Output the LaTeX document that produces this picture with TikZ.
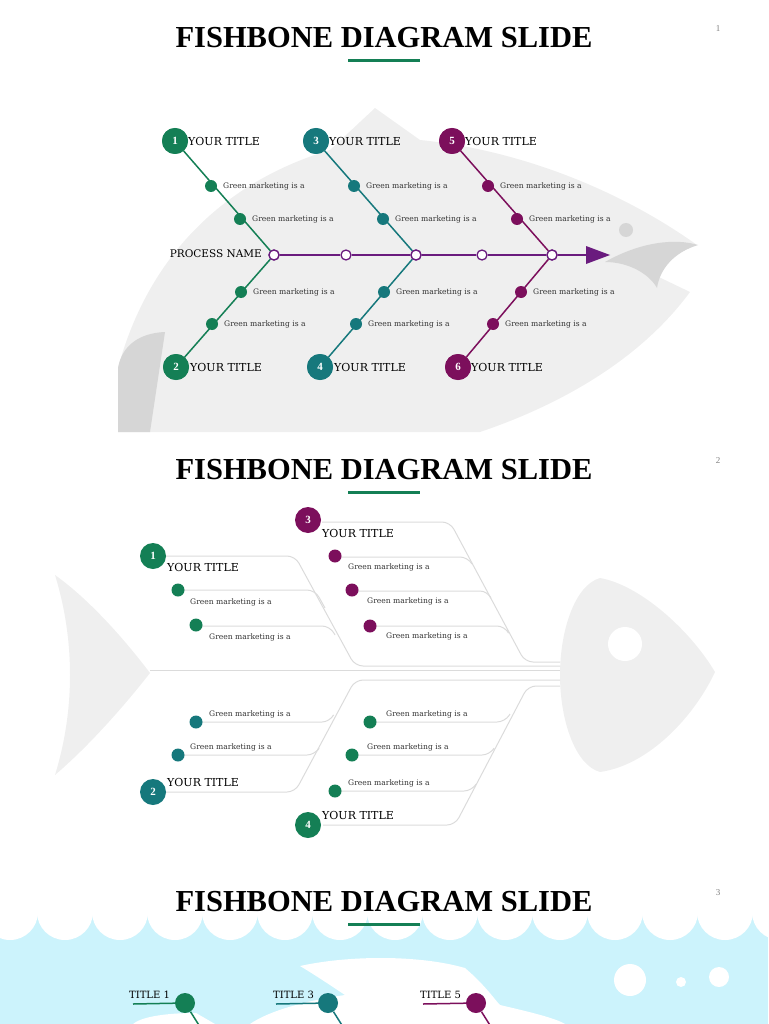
\documentclass[tikz,border=0pt]{standalone}
\usepackage{fontspec}
\setmainfont{Liberation Serif}
\newfontfamily\bodyf{DejaVu Serif}
\begin{document}
\begin{tikzpicture}[x=1pt,y=-1pt,
  num/.style={circle,fill=#1,text=white,minimum size=26pt,inner sep=0pt,font=\bfseries\fontsize{11}{11}\selectfont},
  dotc/.style={circle,fill=#1,minimum size=12pt,inner sep=0pt},
  ring/.style={circle,draw=spine,fill=white,line width=1.3pt,minimum size=10pt,inner sep=0pt},
  sm/.style={anchor=west,inner sep=0pt,font=\bodyf\fontsize{7.6}{7.6}\selectfont,text=black!80},
  yt/.style={anchor=west,inner sep=0pt,font=\bodyf\fontsize{11}{11}\selectfont},
  ttl/.style={font=\bfseries\fontsize{30.5}{30.5}\selectfont},
  pg/.style={font=\fontsize{9}{9}\selectfont,text=black!50},
  grl/.style={draw=black!14,line width=1pt,rounded corners=8pt},
  bone/.style={line width=1.5pt,draw=#1}]
\definecolor{cg}{HTML}{147F55}
\definecolor{ct}{HTML}{16787C}
\definecolor{cp}{HTML}{7C0F5C}
\definecolor{spine}{HTML}{6A1B7E}
\definecolor{fg}{HTML}{EFEFEF}
\definecolor{fd}{HTML}{D6D6D6}
\definecolor{sky}{HTML}{CCF3FC}
\useasboundingbox (0,0) rectangle (768,1024);
% ===== Slide 1 =====
\node[ttl] (t1) at (384,38) {FISHBONE DIAGRAM SLIDE};
\fill[cg] (348,59.5) rectangle (420,62.5);
\node[pg] (p1) at (718,29) {1};
\fill[fg] (118,432) -- (118,368) .. controls (150,250) and (230,180) .. (330,150) -- (375,108) -- (420,140)
  .. controls (520,150) and (620,190) .. (697,245) -- (640,268) -- (690,292)
  .. controls (640,360) and (560,405) .. (480,432) -- cycle;
\fill[fd] (118,432) -- (118,368) .. controls (122,345) and (140,333) .. (165,332) -- (150,432) -- cycle;
\fill[fd] (605,262) .. controls (640,242) and (675,238) .. (698,245) .. controls (675,252) and (660,268) .. (657,288) .. controls (650,275) and (630,262) .. (605,262) -- cycle;
\fill[fd] (626,230) circle (7);
% spine
\node[ring] (r1) at (274,255) {};
\node[ring] (r2) at (346,255) {};
\node[ring] (r3) at (416,255) {};
\node[ring] (r4) at (482,255) {};
\node[ring] (r5) at (552,255) {};
\coordinate (tip) at (590,255);
\node[num=cg] (n1) at (175,141) {1};
\node[num=cg] (n2) at (176,367) {2};
\node[num=ct] (n3) at (316,141) {3};
\node[num=ct] (n4) at (320,367) {4};
\node[num=cp] (n5) at (452,141) {5};
\node[num=cp] (n6) at (458,367) {6};
\draw[spine,line width=1.3pt] (r1) -- (r2) -- (r3) -- (r4) -- (r5) -- (tip);
\fill[spine] (586,246) -- (610,255) -- (586,264) -- cycle;
\draw[bone=cg] (n1) -- (r1) -- (n2);
\draw[bone=ct] (n3) -- (r3) -- (n4);
\draw[bone=cp] (n5) -- (r5) -- (n6);
\node[ring] at (274,255) {};\node[ring] at (416,255) {};\node[ring] at (552,255) {};
\node[anchor=east,inner sep=0pt,font=\bodyf\fontsize{10.5}{10.5}\selectfont] (pn) at (262,254) {PROCESS NAME};
\node[num=cg] at (175,141) {1};\node[num=cg] at (176,367) {2};
\node[num=ct] at (316,141) {3};\node[num=ct] at (320,367) {4};
\node[num=cp] at (452,141) {5};\node[num=cp] at (458,367) {6};
\node[yt] (y1) at (188,141) {YOUR TITLE};
\node[yt] (y2) at (190,367) {YOUR TITLE};
\node[yt] (y3) at (329,141) {YOUR TITLE};
\node[yt] (y4) at (334,367) {YOUR TITLE};
\node[yt] (y5) at (465,141) {YOUR TITLE};
\node[yt] (y6) at (471,367) {YOUR TITLE};
\foreach \x/\y/\c/\n in {211/186/cg/a1,240/219/cg/a2,241/292/cg/a3,212/324/cg/a4,
  354/186/ct/b1,383/219/ct/b2,384/292/ct/b3,356/324/ct/b4,
  488/186/cp/c1,517/219/cp/c2,521/292/cp/c3,493/324/cp/c4}{
  \node[dotc=\c] (\n) at (\x,\y) {};
  \node[sm] (\n t) at (\x+12,\y) {Green marketing is a};
}
% ===== Slide 2 =====
\node[ttl] (t2) at (384,470) {FISHBONE DIAGRAM SLIDE};
\fill[cg] (348,490.5) rectangle (420,493.5);
\node[pg] (p2) at (718,461) {2};
\fill[fg] (55,575) .. controls (90,600) and (125,640) .. (150,673) .. controls (125,705) and (90,745) .. (55,775) .. controls (75,710) and (75,640) .. (55,575) -- cycle;
\fill[fg] (600,578) .. controls (640,585) and (690,630) .. (715,672) .. controls (695,715) and (650,765) .. (600,772) .. controls (575,765) and (560,720) .. (560,675) .. controls (560,630) and (575,585) .. (600,578) -- cycle;
\fill[white] (625,644) circle (17);
\draw[grl,rounded corners=0pt] (150,670) -- (560,670);
\draw[grl] (160,556) -- (295,556) -- (355,666) -- (560,666);
\draw[grl] (180,590) -- (315,590) -- (325,608);
\draw[grl] (200,626) -- (330,626) -- (335,635);
\draw[grl] (322,522) -- (450,522) -- (525,662) -- (560,662);
\draw[grl] (335,557) -- (468,557) -- (472,564);
\draw[grl] (352,591) -- (488,591) -- (490,596);
\draw[grl] (370,626) -- (505,626) -- (507,630);
\draw[grl] (160,792) -- (295,792) -- (355,680) -- (560,680);
\draw[grl] (196,722) -- (330,722) -- (333,716);
\draw[grl] (178,755) -- (315,755) -- (318,750);
\draw[grl] (323,825) -- (455,825) -- (528,686) -- (560,686);
\draw[grl] (370,722) -- (505,722) -- (510,714);
\draw[grl] (352,755) -- (490,755) -- (493,750);
\draw[grl] (335,791) -- (472,791) -- (475,786);
\node[num=cg] (m1) at (153,556) {1};
\node[num=cp] (m3) at (308,520) {3};
\node[num=ct] (m2) at (153,792) {2};
\node[num=cg] (m4) at (308,825) {4};
\node[yt] (z1) at (167,567) {YOUR TITLE};
\node[yt] (z3) at (322,533) {YOUR TITLE};
\node[yt] (z2) at (167,782) {YOUR TITLE};
\node[yt] (z4) at (322,815) {YOUR TITLE};
\foreach \x/\y/\c/\n/\tx/\ty in {178/590/cg/d1/190/602,196/625/cg/d2/209/637,
  335/556/cp/d3/348/567,352/590/cp/d4/367/601,370/626/cp/d5/386/636,
  196/722/ct/d6/209/714,178/755/ct/d7/190/747,
  370/722/cg/d8/386/714,352/755/cg/d9/367/747,335/791/cg/d10/348/783}{
  \node[dotc=\c,minimum size=13pt] (\n) at (\x,\y) {};
  \node[sm] (\n t) at (\tx,\ty) {Green marketing is a};
}
% ===== Slide 3 =====
\fill[sky] (0,915) rectangle (768,1024);
\foreach \i in {0,...,14}{\fill[white] (\i*55+10,912) circle (28);}
\node[ttl] (t3) at (384,902) {FISHBONE DIAGRAM SLIDE};
\fill[cg] (348,922.5) rectangle (420,925.5);
\node[pg] (p3) at (718,893) {3};
\fill[white] (630,980) circle (16);
\fill[white] (681,982) circle (5);
\fill[white] (719,977) circle (10);
\fill[white] (300,966) .. controls (350,955) and (420,955) .. (465,968) .. controls (485,985) and (495,1000) .. (500,1005) .. controls (530,1012) and (555,1018) .. (565,1024) -- (250,1024) .. controls (270,1010) and (310,1000) .. (345,995) .. controls (330,985) and (315,975) .. (300,966) -- cycle;
\fill[white] (133,1024) .. controls (140,1018) and (160,1013) .. (196,1013) -- (215,1024) -- cycle;
\node[circle,fill=cg,minimum size=20pt,inner sep=0pt] (e1) at (185,1003) {};
\node[circle,fill=ct,minimum size=20pt,inner sep=0pt] (e3) at (328,1003) {};
\node[circle,fill=cp,minimum size=20pt,inner sep=0pt] (e5) at (476,1003) {};
\coordinate (h1) at (133,1004); \coordinate (h3) at (276,1004); \coordinate (h5) at (423,1004);
\coordinate (k1) at (202,1030); \coordinate (k3) at (345,1030); \coordinate (k5) at (493,1030);
\draw[cg,line width=1.5pt] (h1) -- (e1) -- (k1);
\draw[ct,line width=1.5pt] (h3) -- (e3) -- (k3);
\draw[cp,line width=1.5pt] (h5) -- (e5) -- (k5);
\node[yt,font=\bodyf\fontsize{10}{10}\selectfont] (s1) at (129,995) {TITLE 1};
\node[yt,font=\bodyf\fontsize{10}{10}\selectfont] (s3) at (273,995) {TITLE 3};
\node[yt,font=\bodyf\fontsize{10}{10}\selectfont] (s5) at (420,995) {TITLE 5};
\end{tikzpicture}
\end{document}
